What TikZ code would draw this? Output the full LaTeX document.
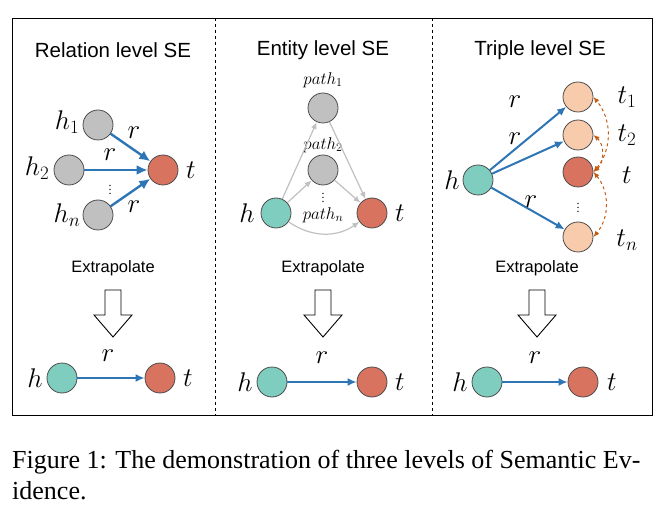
\RequirePackage{fix-cm}
\documentclass[tikz,border=0pt]{standalone}
\usepackage{fontspec}
\setmainfont{Liberation Serif}
\newfontfamily\sansf{Liberation Sans}
\usetikzlibrary{arrows.meta}
\definecolor{cg}{HTML}{C0C0C0}
\definecolor{ct}{HTML}{7ECDBE}
\definecolor{cr}{HTML}{D87360}
\definecolor{cp}{HTML}{F8CBAD}
\definecolor{cb}{HTML}{2E75B6}
\definecolor{co}{HTML}{C55A11}
\begin{document}
\begin{tikzpicture}[x=1pt,y=-1pt,
  nd/.style={circle,draw=black!70,line width=0.8pt,minimum size=30pt,inner sep=0pt},
  g/.style={nd,fill=cg}, tl/.style={nd,fill=ct}, rd/.style={nd,fill=cr}, pc/.style={nd,fill=cp},
  lab/.style={font=\fontsize{27}{30}\selectfont},
  sl/.style={font=\fontsize{17}{19}\selectfont},
  dt/.style={font=\fontsize{12}{14}\selectfont},
  ttl/.style={font=\sansf\fontsize{20.5}{24}\selectfont},
  ex/.style={font=\sansf\fontsize{16.5}{19}\selectfont},
  be/.style={-{Latex[length=11pt,width=10pt]},cb,line width=2.4pt},
  bs/.style={-{Latex[length=9pt,width=8pt]},cb,line width=2pt},
  ge/.style={-{Latex[length=7pt,width=6pt]},cg,line width=1.2pt},
  oe/.style={{Latex[length=6pt,width=5pt]}-{Latex[length=6pt,width=5pt]},co,dashed,line width=1pt},
  blk/.style={draw=black,line width=0.9pt,fill=white}]
\useasboundingbox (0,0) rectangle (663,510);
\draw[line width=0.9pt] (12,18) rectangle (652,415);
\draw[dashed,line width=0.9pt] (215,18) -- (215,415);
\draw[dashed,line width=0.9pt] (432,18) -- (432,415);
% block arrows
\foreach \cx in {113,323,537}{
  \draw[blk] (\cx-8,290) -- (\cx+8,290) -- (\cx+8,315) -- (\cx+19,315) -- (\cx,337) -- (\cx-19,315) -- (\cx-8,315) -- cycle;
}
% Panel 1
\node[ttl] (T1) at (113,50) {Relation level SE};
\node[g] (h1) at (98,125) {};
\node[g] (h2) at (69,170) {};
\node[g] (hn) at (98,215) {};
\node[rd] (t) at (163,170) {};
\node[lab] at (67,122) {$h_1$};
\node[lab] at (37,168) {$h_2$};
\node[lab] at (67,215) {$h_n$};
\node[lab] at (191,170) {$t$};
\draw[be] (h1) -- (t);
\draw[be] (h2) -- (t);
\draw[be] (hn) -- (t);
\node[lab] at (134,133) {$r$};
\node[lab] at (110,155) {$r$};
\node[lab] at (134,207) {$r$};
\node[dt] at (110,187) {$\vdots$};
\node[ex] (E1) at (113,268) {Extrapolate};
\node[tl] (bh1) at (62,378) {};
\node[rd] (bt1) at (160,378) {};
\draw[bs] (bh1) -- (bt1);
\node[lab] at (35,378) {$h$};
\node[lab] at (188,378) {$t$};
\node[lab] at (108,356) {$r$};
% Panel 2
\node[ttl] (T2) at (323,50) {Entity level SE};
\node[g] (p1) at (323,108) {};
\node[g] (p2) at (323,170) {};
\node[tl] (eh) at (276,213) {};
\node[rd] (et) at (372,213) {};
\node[sl] at (323,80) {$path_1$};
\node[sl] at (323,145) {$path_2$};
\node[dt] at (323,195) {$\vdots$};
\node[sl] at (323,215) {$path_n$};
\node[lab] at (247,213) {$h$};
\node[lab] at (400,213) {$t$};
\draw[ge] (eh) -- (p1);
\draw[ge] (eh) -- (p2);
\draw[ge] (p1) -- (et);
\draw[ge] (p2) -- (et);
\draw[ge] (eh) to[bend right=35] (et);
\node[ex] (E2) at (323,268) {Extrapolate};
\node[tl] (bh2) at (272,382) {};
\node[rd] (bt2) at (372,382) {};
\draw[bs] (bh2) -- (bt2);
\node[lab] at (245,382) {$h$};
\node[lab] at (400,382) {$t$};
\node[lab] at (322,358) {$r$};
% Panel 3
\node[ttl] (T3) at (540,50) {Triple level SE};
\node[tl] (th) at (478,180) {};
\node[pc] (t1) at (578,97) {};
\node[pc] (t2) at (578,135) {};
\node[rd] (tt) at (578,172) {};
\node[pc] (tn) at (578,237) {};
\node[dt] at (578,205) {$\vdots$};
\node[lab] at (452,180) {$h$};
\node[lab] at (627,97) {$t_1$};
\node[lab] at (627,135) {$t_2$};
\node[lab] at (627,175) {$t$};
\node[lab] at (627,240) {$t_n$};
\draw[bs] (th) -- (t1);
\draw[bs] (th) -- (t2);
\draw[bs] (th) -- (tn);
\node[lab] at (515,102) {$r$};
\node[lab] at (515,139) {$r$};
\node[lab] at (531,202) {$r$};
\draw[oe] (tt.east) to[bend right=40] (t1.east);
\draw[oe] (tt.east) to[bend right=50] (t2.east);
\draw[oe] (tt.east) to[bend left=40] (tn.east);
\node[ex] (E3) at (537,268) {Extrapolate};
\node[tl] (bh3) at (487,382) {};
\node[rd] (bt3) at (583,382) {};
\draw[bs] (bh3) -- (bt3);
\node[lab] at (460,382) {$h$};
\node[lab] at (612,382) {$t$};
\node[lab] at (535,358) {$r$};
% caption
\node[anchor=west,font=\fontsize{26}{30}\selectfont,inner sep=0pt] (cap1) at (12,462) {Figure 1: The demonstration of three levels of Semantic Ev-};
\node[anchor=west,font=\fontsize{26}{30}\selectfont,inner sep=0pt] (cap2) at (12,491) {idence.};
\end{tikzpicture}
\end{document}
